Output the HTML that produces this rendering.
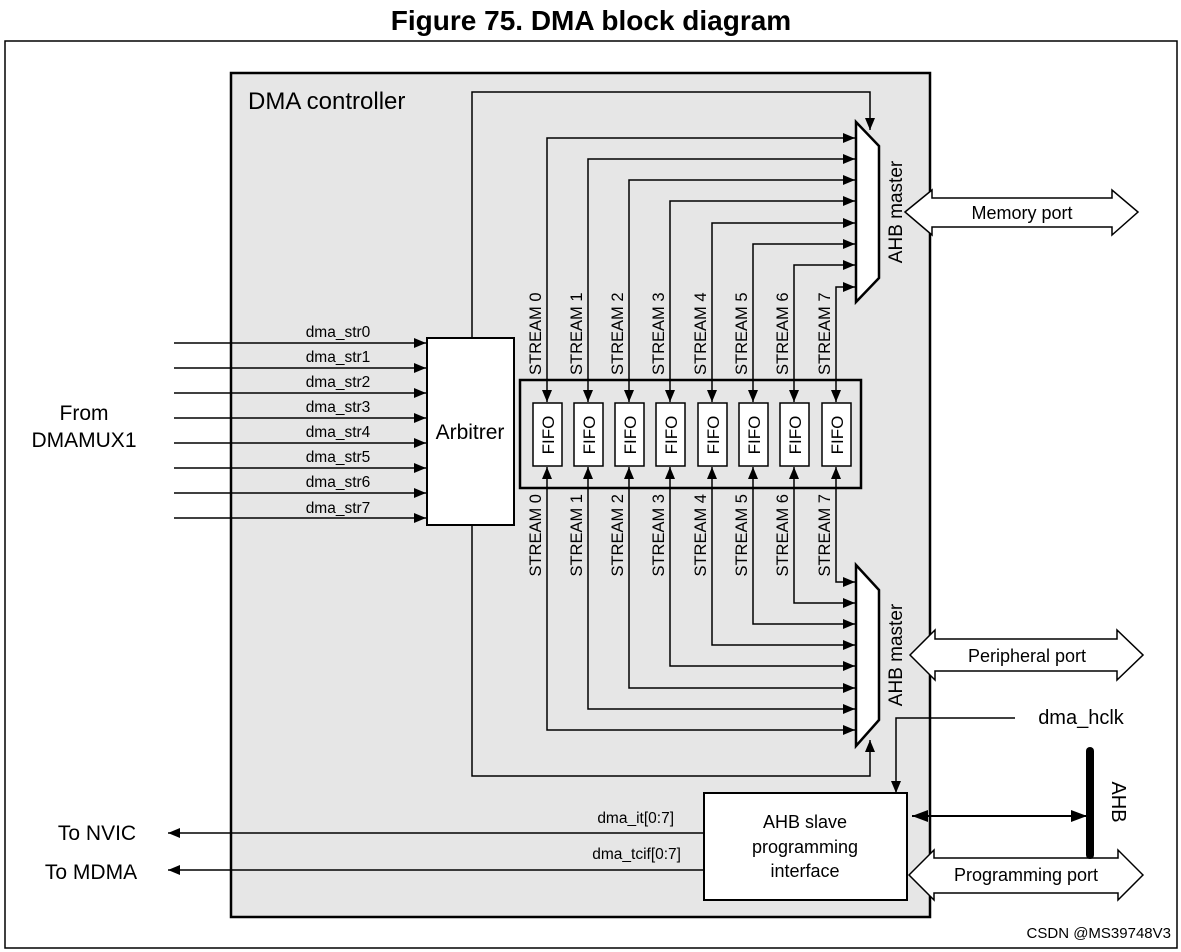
<!DOCTYPE html>
<html><head><meta charset="utf-8"><style>
body{margin:0;background:#fff}
svg{display:block}
text{font-family:"Liberation Sans",Arial,sans-serif;fill:#000}
</style></head><body>
<svg width="1181" height="952" viewBox="0 0 1181 952" xmlns="http://www.w3.org/2000/svg">
<defs>
<marker id="a" markerWidth="12" markerHeight="10" refX="12" refY="5" orient="auto" markerUnits="userSpaceOnUse"><path d="M0,0 L12,5 L0,10 Z" fill="#000"/></marker>
<marker id="b" markerWidth="16" markerHeight="12" refX="16" refY="6" orient="auto" markerUnits="userSpaceOnUse"><path d="M0,0 L16,6 L0,12 Z" fill="#000"/></marker>
</defs>
<text x="591" y="30" font-size="28" font-weight="bold" text-anchor="middle">Figure 75. DMA block diagram</text>
<rect x="5" y="41" width="1172" height="907" fill="#fff" stroke="#000" stroke-width="1.5"/>
<rect x="231" y="73" width="699" height="844" fill="#e6e6e6" stroke="#000" stroke-width="2.5"/>
<text x="248" y="109" font-size="24">DMA controller</text>

<g stroke="#000" stroke-width="1.5" fill="none">
<polyline points="472,338 472,92 870,92 870,130" marker-end="url(#a)"/>
<polyline points="472,525 472,776 870,776 870,740" marker-end="url(#a)"/>
<polyline points="1015,718 896,718 896,793" marker-end="url(#a)"/>
</g>

<g stroke="#000" stroke-width="1.5" fill="none">
<polyline points="547,400 547,138 855,138" marker-end="url(#a)"/>
<polyline points="588,400 588,159 855,159" marker-end="url(#a)"/>
<polyline points="629,400 629,180 855,180" marker-end="url(#a)"/>
<polyline points="670,400 670,201 855,201" marker-end="url(#a)"/>
<polyline points="712,400 712,223 855,223" marker-end="url(#a)"/>
<polyline points="753,400 753,244 855,244" marker-end="url(#a)"/>
<polyline points="794,400 794,265 855,265" marker-end="url(#a)"/>
<polyline points="836,400 836,287 855,287" marker-end="url(#a)"/>
<polyline points="547,468 547,730 855,730" marker-end="url(#a)"/>
<polyline points="588,468 588,709 855,709" marker-end="url(#a)"/>
<polyline points="629,468 629,688 855,688" marker-end="url(#a)"/>
<polyline points="670,468 670,666 855,666" marker-end="url(#a)"/>
<polyline points="712,468 712,645 855,645" marker-end="url(#a)"/>
<polyline points="753,468 753,624 855,624" marker-end="url(#a)"/>
<polyline points="794,468 794,603 855,603" marker-end="url(#a)"/>
<polyline points="836,468 836,582 855,582" marker-end="url(#a)"/>
</g>

<rect x="520" y="380" width="341" height="108" fill="#e6e6e6" stroke="#000" stroke-width="2.5"/>
<g stroke="#000" stroke-width="1.5" fill="none">
<line x1="547" y1="488" x2="547" y2="467" marker-end="url(#a)"/>
<line x1="588" y1="488" x2="588" y2="467" marker-end="url(#a)"/>
<line x1="629" y1="488" x2="629" y2="467" marker-end="url(#a)"/>
<line x1="670" y1="488" x2="670" y2="467" marker-end="url(#a)"/>
<line x1="712" y1="488" x2="712" y2="467" marker-end="url(#a)"/>
<line x1="753" y1="488" x2="753" y2="467" marker-end="url(#a)"/>
<line x1="794" y1="488" x2="794" y2="467" marker-end="url(#a)"/>
<line x1="836" y1="488" x2="836" y2="467" marker-end="url(#a)"/>
<line x1="547" y1="380" x2="547" y2="402" marker-end="url(#a)"/>
<line x1="588" y1="380" x2="588" y2="402" marker-end="url(#a)"/>
<line x1="629" y1="380" x2="629" y2="402" marker-end="url(#a)"/>
<line x1="670" y1="380" x2="670" y2="402" marker-end="url(#a)"/>
<line x1="712" y1="380" x2="712" y2="402" marker-end="url(#a)"/>
<line x1="753" y1="380" x2="753" y2="402" marker-end="url(#a)"/>
<line x1="794" y1="380" x2="794" y2="402" marker-end="url(#a)"/>
<line x1="836" y1="380" x2="836" y2="402" marker-end="url(#a)"/>
</g>
<g fill="#fff" stroke="#000" stroke-width="1.5">
<rect x="533" y="403" width="29" height="63"/>
<rect x="574" y="403" width="29" height="63"/>
<rect x="615" y="403" width="29" height="63"/>
<rect x="656" y="403" width="29" height="63"/>
<rect x="698" y="403" width="29" height="63"/>
<rect x="739" y="403" width="29" height="63"/>
<rect x="780" y="403" width="29" height="63"/>
<rect x="822" y="403" width="29" height="63"/>
</g>
<g font-size="17" text-anchor="middle">
<text transform="translate(554,435) rotate(-90)">FIFO</text>
<text transform="translate(595,435) rotate(-90)">FIFO</text>
<text transform="translate(636,435) rotate(-90)">FIFO</text>
<text transform="translate(677,435) rotate(-90)">FIFO</text>
<text transform="translate(719,435) rotate(-90)">FIFO</text>
<text transform="translate(760,435) rotate(-90)">FIFO</text>
<text transform="translate(801,435) rotate(-90)">FIFO</text>
<text transform="translate(843,435) rotate(-90)">FIFO</text>
</g>
<g font-size="16.5">
<text transform="translate(541,375) rotate(-90)">STREAM 0</text>
<text transform="translate(582,375) rotate(-90)">STREAM 1</text>
<text transform="translate(623,375) rotate(-90)">STREAM 2</text>
<text transform="translate(664,375) rotate(-90)">STREAM 3</text>
<text transform="translate(706,375) rotate(-90)">STREAM 4</text>
<text transform="translate(747,375) rotate(-90)">STREAM 5</text>
<text transform="translate(788,375) rotate(-90)">STREAM 6</text>
<text transform="translate(830,375) rotate(-90)">STREAM 7</text>
<g text-anchor="end">
<text transform="translate(541,494) rotate(-90)">STREAM 0</text>
<text transform="translate(582,494) rotate(-90)">STREAM 1</text>
<text transform="translate(623,494) rotate(-90)">STREAM 2</text>
<text transform="translate(664,494) rotate(-90)">STREAM 3</text>
<text transform="translate(706,494) rotate(-90)">STREAM 4</text>
<text transform="translate(747,494) rotate(-90)">STREAM 5</text>
<text transform="translate(788,494) rotate(-90)">STREAM 6</text>
<text transform="translate(830,494) rotate(-90)">STREAM 7</text>
</g>
</g>

<polygon points="856,122 879,146 879,278 856,302" fill="#fff" stroke="#000" stroke-width="2.5"/>
<polygon points="856,565 879,590 879,720 856,746" fill="#fff" stroke="#000" stroke-width="2.5"/>
<text transform="translate(902,212) rotate(-90)" font-size="19" text-anchor="middle">AHB master</text>
<text transform="translate(902,655) rotate(-90)" font-size="19" text-anchor="middle">AHB master</text>

<rect x="427" y="338" width="87" height="187" fill="#fff" stroke="#000" stroke-width="2"/>
<text x="470" y="439" font-size="21" text-anchor="middle">Arbitrer</text>
<g stroke="#000" stroke-width="1.5">
<line x1="174" y1="343" x2="426" y2="343" marker-end="url(#a)"/>
<line x1="174" y1="368" x2="426" y2="368" marker-end="url(#a)"/>
<line x1="174" y1="393" x2="426" y2="393" marker-end="url(#a)"/>
<line x1="174" y1="418" x2="426" y2="418" marker-end="url(#a)"/>
<line x1="174" y1="443" x2="426" y2="443" marker-end="url(#a)"/>
<line x1="174" y1="468" x2="426" y2="468" marker-end="url(#a)"/>
<line x1="174" y1="493" x2="426" y2="493" marker-end="url(#a)"/>
<line x1="174" y1="518" x2="426" y2="518" marker-end="url(#a)"/>
</g>
<g font-size="15.5" text-anchor="middle">
<text x="338" y="337">dma_str0</text>
<text x="338" y="362">dma_str1</text>
<text x="338" y="387">dma_str2</text>
<text x="338" y="412">dma_str3</text>
<text x="338" y="437">dma_str4</text>
<text x="338" y="462">dma_str5</text>
<text x="338" y="487">dma_str6</text>
<text x="338" y="513">dma_str7</text>
</g>
<text x="84" y="420" font-size="21" text-anchor="middle">From</text>
<text x="84" y="447" font-size="21" text-anchor="middle">DMAMUX1</text>

<g fill="#fff" stroke="#000" stroke-width="1.5">
<polygon points="905,212 932,190 932,198 1112,198 1112,190 1138,212 1112,235 1112,227 932,227 932,235"/>
<polygon points="910,655 935,630 935,639 1117,639 1117,630 1143,655 1117,680 1117,671 935,671 935,680"/>
<polygon points="909,875 934,850 934,858 1118,858 1118,850 1143,875 1118,900 1118,893 934,893 934,900"/>
</g>
<text x="1022" y="219" font-size="18" text-anchor="middle">Memory port</text>
<text x="1027" y="662" font-size="18" text-anchor="middle">Peripheral port</text>
<text x="1026" y="881" font-size="18" text-anchor="middle">Programming port</text>
<text x="1081" y="724" font-size="20" text-anchor="middle">dma_hclk</text>

<rect x="704" y="793" width="203" height="107" fill="#fff" stroke="#000" stroke-width="2"/>
<text x="805" y="828" font-size="18" text-anchor="middle">AHB slave</text>
<text x="805" y="853" font-size="18" text-anchor="middle">programming</text>
<text x="805" y="877" font-size="18" text-anchor="middle">interface</text>
<line x1="1090" y1="751" x2="1090" y2="855" stroke="#000" stroke-width="8" stroke-linecap="round"/>
<g stroke="#000" stroke-width="2">
<line x1="930" y1="816" x2="1087" y2="816" marker-end="url(#b)"/>
<line x1="930" y1="816" x2="912" y2="816" marker-end="url(#b)"/>
</g>
<text transform="translate(1112,802) rotate(90)" font-size="20" text-anchor="middle">AHB</text>

<g stroke="#000" stroke-width="1.5">
<line x1="704" y1="833" x2="168" y2="833" marker-end="url(#a)"/>
<line x1="704" y1="870" x2="168" y2="870" marker-end="url(#a)"/>
</g>
<text x="674" y="823" font-size="15.5" text-anchor="end">dma_it[0:7]</text>
<text x="681" y="859" font-size="15.5" text-anchor="end">dma_tcif[0:7]</text>
<text x="97" y="840" font-size="21" text-anchor="middle">To NVIC</text>
<text x="91" y="879" font-size="21" text-anchor="middle">To MDMA</text>
<text x="1171" y="938" font-size="15" text-anchor="end" fill="#999">CSDN @MS39748V3</text>
</svg>
</body></html>
